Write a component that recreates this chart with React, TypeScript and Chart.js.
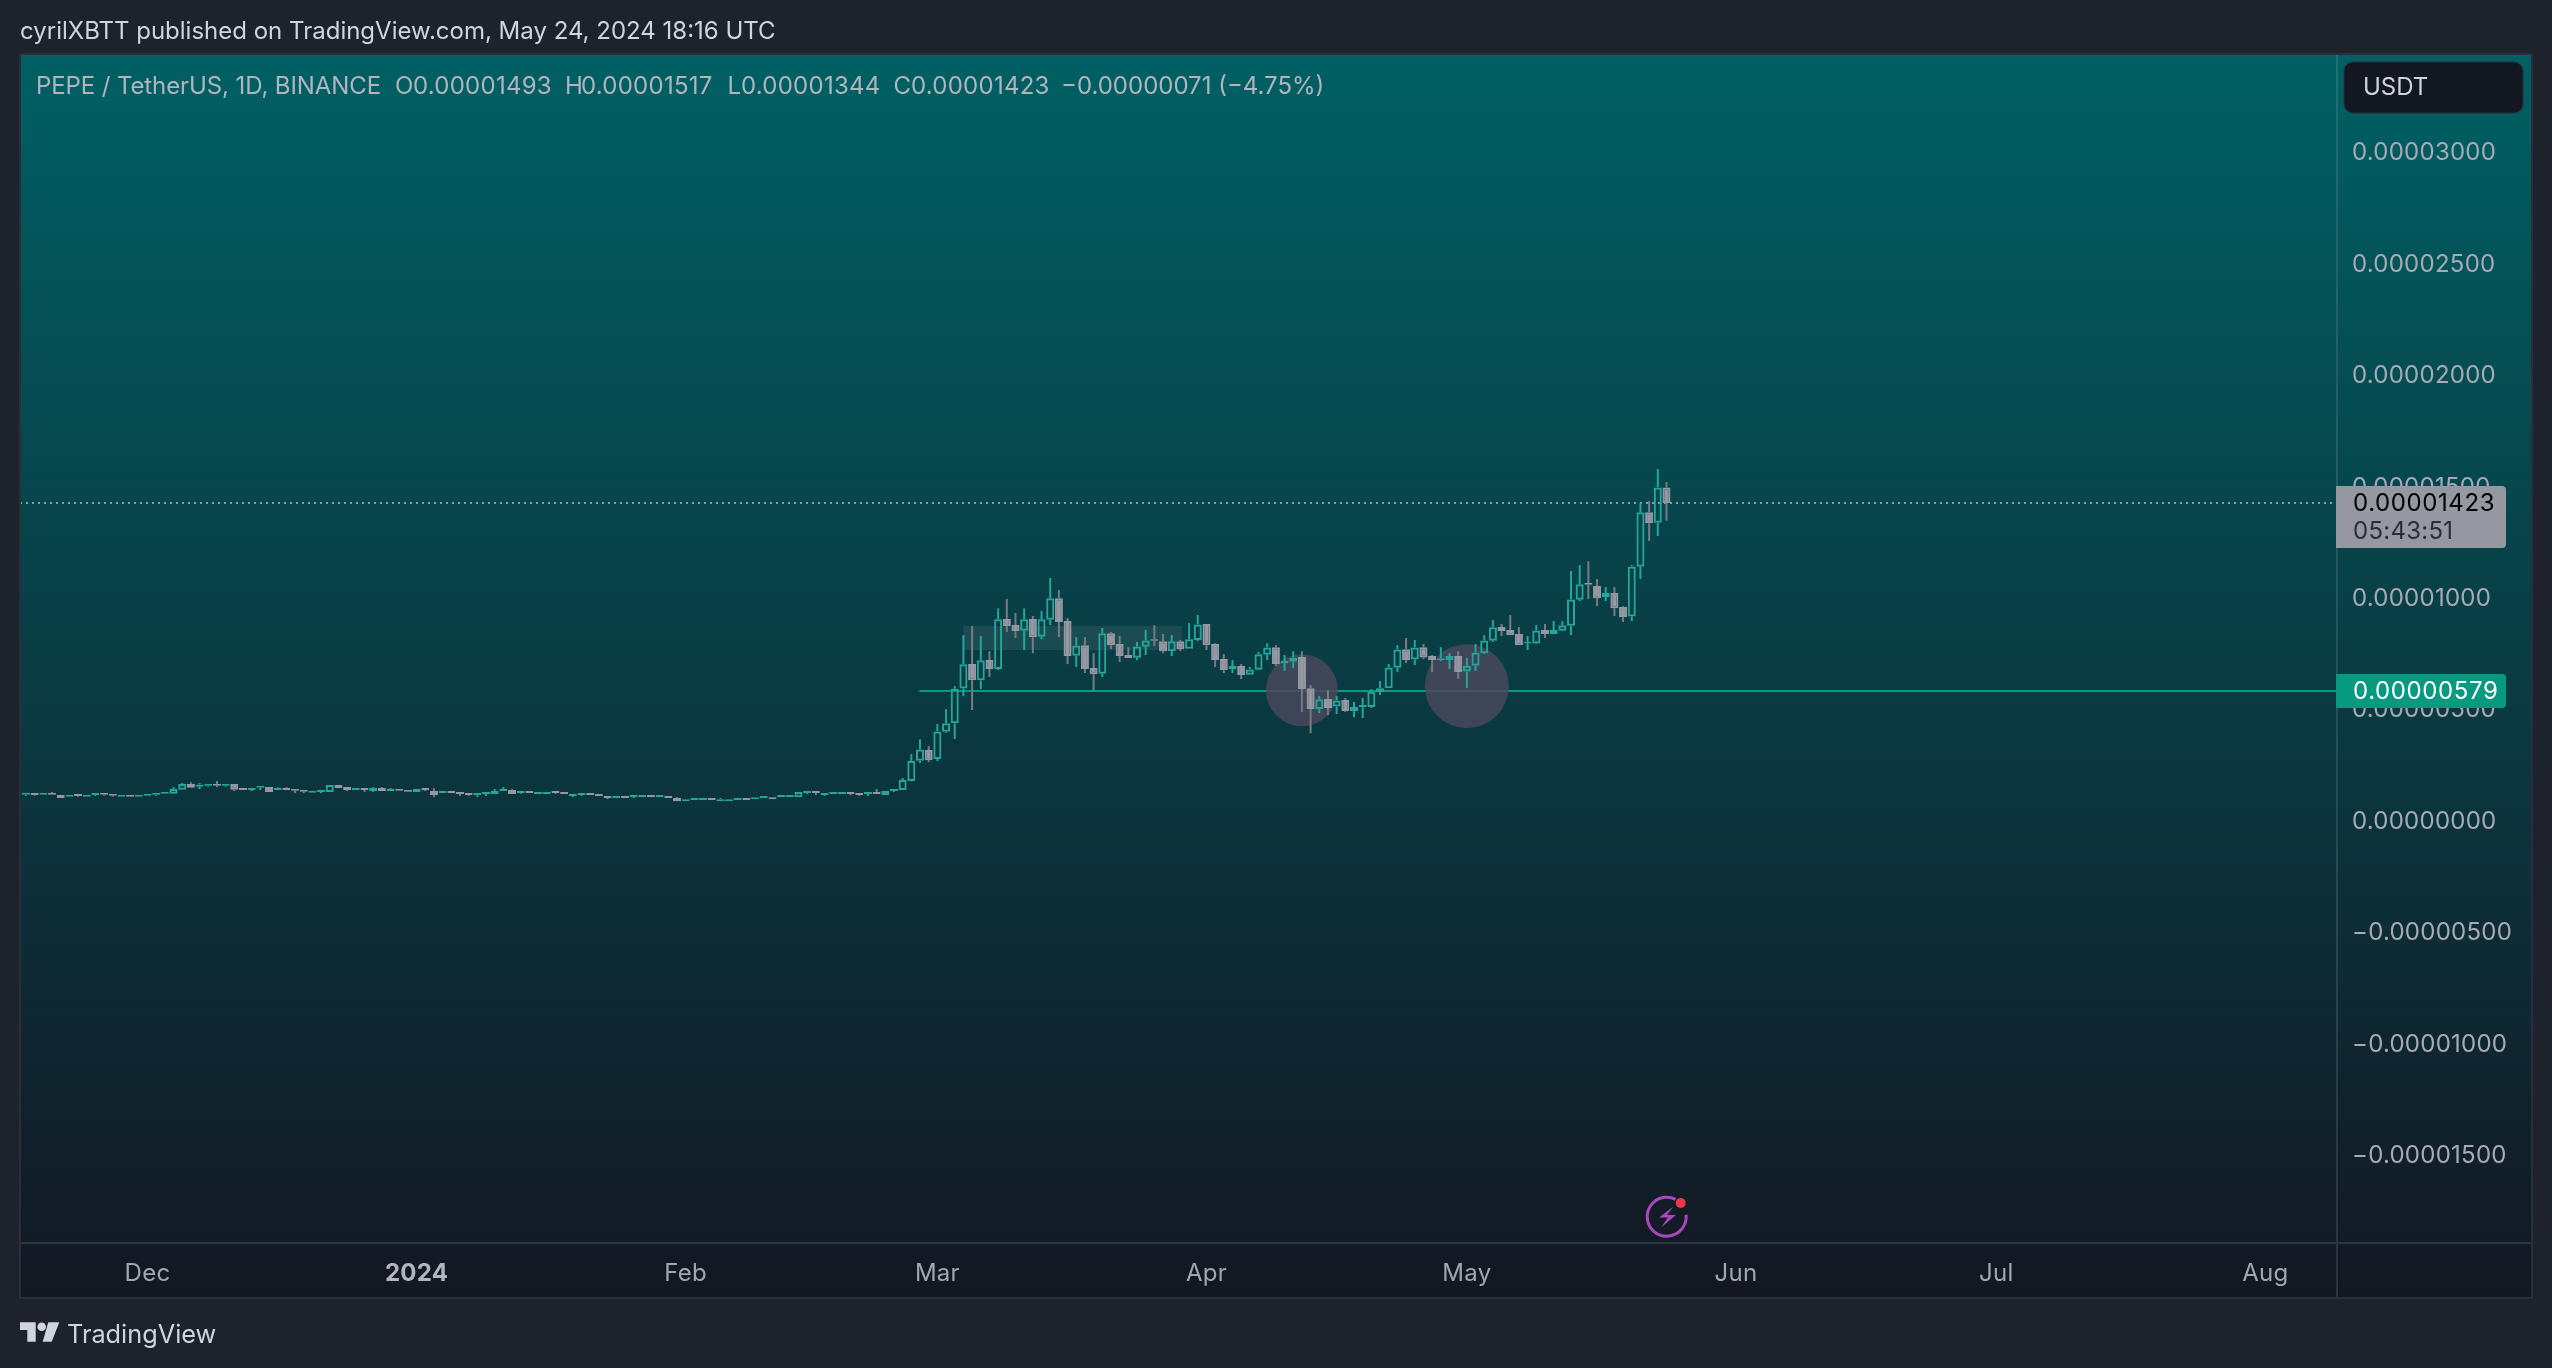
import React, { useEffect, useRef } from "react";
import { Chart, registerables } from "chart.js";

Chart.register(...registerables);

// Prices are in units of 0.00000001 USDT. Days are counted from 1 Dec 2023.
const FIRST_DAY = -15;
const opens = [
  126,114,121,114,121,112,105,117,105,112,
  121,117,105,112,105,109,114,118,118,136,
  162,150,154,162,154,162,144,135,145,148,
  135,144,139,135,123,126,126,157,148,135,
  144,130,144,130,139,135,126,144,130,121,
  130,126,121,112,117,117,130,135,121,130,
  117,117,130,126,108,112,121,117,108,99,
  108,103,103,112,103,108,99,85,90,90,
  99,85,85,90,99,94,99,103,103,103,
  103,121,130,112,117,117,126,121,117,126,
  112,130,135,175,266,314,274,396,434,591,
  700,627,718,678,902,875,850,902,823,899,
  996,893,738,785,682,657,839,790,741,729,
  778,812,803,758,803,769,808,880,790,723,
  678,691,652,675,742,776,703,711,732,592,
  498,543,510,539,489,507,507,574,592,684,
  767,721,776,736,718,718,736,667,693,749,
  805,866,853,835,793,793,853,835,850,872,
  989,1064,1050,1001,1019,956,914,1137,1382,1334,
  1493,
];
const highs = [
  126,123,121,121,126,112,112,117,112,121,
  121,117,112,112,112,117,121,126,148,166,
  170,166,162,175,162,162,144,144,153,148,
  147,148,139,135,130,135,157,157,148,144,
  144,148,148,144,139,135,139,144,144,130,
  130,126,121,121,126,139,148,139,130,130,
  126,126,130,126,117,121,121,117,108,108,
  108,112,112,112,112,108,103,94,99,99,
  99,99,94,99,99,103,108,103,112,112,
  126,130,130,121,126,126,126,121,126,139,
  130,139,189,296,362,332,431,498,601,830,
  871,826,758,950,992,929,950,916,938,1086,
  1032,907,821,821,749,862,844,826,776,799,
  853,875,835,830,808,884,920,880,794,745,
  718,700,687,754,794,785,741,758,758,606,
  557,583,557,548,530,548,588,624,700,785,
  817,808,790,741,776,749,758,727,790,830,
  898,880,920,866,826,875,880,893,893,1118,
  1144,1162,1082,1046,1046,960,1144,1423,1432,1575,
  1517,
];
const lows = [
  109,109,109,114,114,99,105,105,105,108,
  109,105,105,105,105,109,109,118,118,136,
  145,139,150,148,150,130,135,130,135,126,
  135,135,121,121,123,121,126,144,130,135,
  126,126,130,130,132,127,126,130,103,121,
  121,108,108,103,108,117,130,117,117,121,
  117,117,117,117,103,108,112,108,94,99,
  99,99,103,103,103,99,85,85,90,90,
  90,85,85,90,90,94,99,94,103,103,
  103,117,112,108,117,117,112,108,108,117,
  112,126,135,175,256,260,265,392,364,557,
  494,588,642,673,844,817,763,749,812,875,
  821,700,687,660,579,642,767,709,727,718,
  741,781,749,736,758,769,803,763,687,660,
  660,633,652,673,718,691,669,682,485,390,
  480,471,476,485,462,458,503,561,592,664,
  705,696,723,664,714,678,633,592,669,745,
  799,826,830,785,763,790,817,835,848,830,
  983,992,960,983,916,889,893,1082,1252,1275,
  1344,
];
const closes = [
  109,123,112,121,114,99,112,108,112,121,
  114,109,112,105,112,117,121,126,139,162,
  145,159,162,154,162,136,135,144,153,126,
  144,135,132,127,130,135,157,144,135,144,
  135,144,130,139,132,127,139,135,112,130,
  121,117,112,121,126,130,139,117,130,121,
  126,126,121,117,117,121,112,108,99,108,
  99,112,112,103,112,99,85,94,99,99,
  90,94,94,99,90,103,108,94,112,112,
  126,130,121,121,126,126,117,112,126,117,
  130,139,180,265,317,269,398,434,589,699,
  628,717,678,901,871,848,901,821,901,995,
  889,736,784,678,655,838,785,736,727,779,
  806,805,758,802,767,811,878,785,718,673,
  691,651,676,744,775,700,714,729,588,498,
  542,503,537,489,507,516,576,592,685,766,
  718,775,730,718,726,736,664,693,752,806,
  865,848,830,785,799,851,835,853,874,990,
  1058,1056,996,1019,951,911,1138,1381,1333,1493,
  1423,
];

const monthDays = [0, 31, 62, 91, 122, 152, 183, 213, 244];
const monthLabels = ["Dec", "2024", "Feb", "Mar", "Apr", "May", "Jun", "Jul", "Aug"];
const priceTicks = [3000, 2500, 2000, 1500, 1000, 500, 0, -500, -1000, -1500];

const lastPrice = 1423;
const supportPrice = 579;
const supportStartDay = 88.9;
const circleDays = [133, 152];
const circlePrices = [583, 601];
const rangeBoxDays = [94, 119.15];
const rangeBoxPrices = [763, 871];

const titleText = "cyrilXBTT published on TradingView.com, May 24, 2024 18:16 UTC";
const legendParts: [string, number][] = [
  ["PEPE / TetherUS, 1D, BINANCE", 36],
  ["O", 395],
  ["0.00001493", 413],
  ["H", 565],
  ["0.00001517", 581],
  ["L", 727.5],
  ["0.00001344", 741],
  ["C", 893.5],
  ["0.00001423", 911],
  ["\u22120.00000071 (\u22124.75%)", 1061],
];

const W = 2552;
const H = 1368;
const FRAME = { l: 20, t: 54, r: 2532, b: 1298 };
const AXIS_X = 2337;
const AXIS_Y = 1243;
const X_MIN = -14.69;
const X_MAX = 252.25;
const Y_MIN = -1898;
const Y_MAX = 3438;
const FONT = "Inter, 'Noto Sans', sans-serif";
const UP = "#26a69a";
const DOWN = "#9598a1";
const DOWN_WICK = "#787b86";
const SPACING = "0.25px";
const TAG_SPACING = "0.6px";

const days = opens.map((_, i) => FIRST_DAY + i);
const isUp = (i: number) => closes[i] >= opens[i];
const fmtPrice = (v: number) => (v < 0 ? "\u2212" : "") + (Math.abs(v) / 1e8).toFixed(8);

const chrome = {
  id: "chrome",
  beforeDraw(chart: any) {
    const c = chart.ctx as any;
    c.save();
    c.fillStyle = "#1e222d";
    c.fillRect(0, 0, W, H);
    const g = c.createLinearGradient(0, FRAME.t, 0, FRAME.b);
    g.addColorStop(0, "#006064");
    g.addColorStop(1, "#131722");
    c.fillStyle = g;
    c.fillRect(FRAME.l, FRAME.t, FRAME.r - FRAME.l, FRAME.b - FRAME.t);
    c.restore();
    c.letterSpacing = SPACING;
  },
  beforeDatasetsDraw(chart: any) {
    const c = chart.ctx as CanvasRenderingContext2D;
    const { x, y } = chart.scales;
    const x0 = x.getPixelForValue(rangeBoxDays[0]);
    const x1 = x.getPixelForValue(rangeBoxDays[1]);
    const y0 = y.getPixelForValue(rangeBoxPrices[1]);
    const y1 = y.getPixelForValue(rangeBoxPrices[0]);
    c.save();
    c.fillStyle = "rgba(255,255,255,0.075)";
    c.fillRect(x0, y0, x1 - x0, y1 - y0);
    c.restore();
  },
  afterDraw(chart: any) {
    const c = chart.ctx as any;
    c.save();
    // frame and separators
    c.strokeStyle = "rgba(240,243,250,0.12)";
    c.lineWidth = 2;
    c.beginPath();
    c.moveTo(AXIS_X, FRAME.t);
    c.lineTo(AXIS_X, FRAME.b);
    c.moveTo(FRAME.l, AXIS_Y);
    c.lineTo(FRAME.r, AXIS_Y);
    c.stroke();
    c.strokeStyle = "#2a2e39";
    c.strokeRect(FRAME.l, FRAME.t, FRAME.r - FRAME.l, FRAME.b - FRAME.t);

    c.textBaseline = "middle";
    c.textAlign = "left";
    // title
    c.letterSpacing = "0px";
    c.font = `400 24px ${FONT}`;
    c.fillStyle = "#d1d4dc";
    c.fillText(titleText, 20, 32);
    // legend
    c.fillStyle = "#b2b5be";
    legendParts.forEach(([t, px]) => {
      c.letterSpacing = px === 36 ? "-0.1px" : px === 1061 ? "0px" : SPACING;
      c.fillText(t, px, 87);
    });

    // USDT button
    c.letterSpacing = "0px";
    c.beginPath();
    c.roundRect(2344, 62, 179, 51, 9);
    c.fillStyle = "#131722";
    c.fill();
    c.strokeStyle = "#2a2e39";
    c.lineWidth = 1;
    c.stroke();
    c.fillStyle = "#d1d4dc";
    c.fillText("USDT", 2363, 88);

    // last price tag
    c.letterSpacing = TAG_SPACING;
    c.beginPath();
    c.roundRect(2336, 486, 170, 62, [0, 4, 4, 0]);
    c.fillStyle = DOWN;
    c.fill();
    c.fillStyle = "#000000";
    c.fillText(fmtPrice(lastPrice), 2353, 504);
    c.letterSpacing = SPACING;
    c.fillStyle = "#2a2e39";
    c.fillText("05:43:51", 2353, 531.5);

    // support tag
    c.letterSpacing = TAG_SPACING;
    c.beginPath();
    c.roundRect(2336, 674, 170, 34, [0, 4, 4, 0]);
    c.fillStyle = "#089981";
    c.fill();
    c.fillStyle = "#ffffff";
    c.fillText(fmtPrice(supportPrice), 2353, 692);
    c.letterSpacing = "0px";

    // bolt icon
    const cx = 1666.7;
    const cy = 1216.7;
    c.strokeStyle = "#ab47bc";
    c.lineWidth = 3;
    c.beginPath();
    c.arc(cx, cy, 19.5, -0.1, -0.95 + Math.PI * 2 - 0.15);
    c.stroke();
    c.fillStyle = "#ab47bc";
    c.beginPath();
    [[1673.5, 1206.5], [1659, 1217.5], [1668, 1217.5], [1661, 1227.5], [1676, 1215], [1667, 1215]].forEach(
      ([a, b], i) => (i ? c.lineTo(a, b) : c.moveTo(a, b))
    );
    c.closePath();
    c.fill();
    c.fillStyle = "#f23645";
    c.beginPath();
    c.arc(1680.7, 1203, 5, 0, Math.PI * 2);
    c.fill();

    // logo
    c.fillStyle = "#d1d4dc";
    c.beginPath();
    c.moveTo(20, 1322.3);
    c.lineTo(35.7, 1322.3);
    c.lineTo(35.7, 1341.7);
    c.lineTo(27.3, 1341.7);
    c.lineTo(27.3, 1330);
    c.lineTo(20, 1330);
    c.closePath();
    c.moveTo(48.3, 1322.3);
    c.lineTo(59.3, 1322.3);
    c.lineTo(51.7, 1341.7);
    c.lineTo(42.7, 1341.7);
    c.closePath();
    c.fill();
    c.beginPath();
    c.arc(41.7, 1326.7, 4.3, 0, Math.PI * 2);
    c.fill();
    c.font = `400 25.3px ${FONT}`;
    c.fillText("TradingView", 67, 1335);
    c.restore();
  },
};

export default function App() {
  const ref = useRef<HTMLCanvasElement>(null);
  useEffect(() => {
    if (!ref.current) return;
    const chart = new Chart(ref.current, {
      type: "bar",
      data: {
        datasets: [
          {
            type: "line",
            order: 10,
            data: [{ x: X_MIN, y: lastPrice }, { x: X_MAX, y: lastPrice }],
            borderColor: DOWN,
            borderWidth: 2,
            borderDash: [2, 4],
            pointRadius: 0,
          },
          {
            type: "line",
            order: 9,
            data: [{ x: supportStartDay, y: supportPrice }, { x: X_MAX, y: supportPrice }],
            borderColor: "#089981",
            borderWidth: 2,
            pointRadius: 0,
          },
          {
            type: "bubble",
            order: 8,
            data: circleDays.map((d, i) => ({ x: d, y: circlePrices[i], r: i === 0 ? 36 : 42 })),
            backgroundColor: "rgba(74,72,91,0.82)",
            borderWidth: 0,
          },
          {
            type: "bar",
            order: 3,
            grouped: false,
            barThickness: 2,
            inflateAmount: 0,
            data: days.map((d, i) => ({ x: d, y: [Math.max(opens[i], closes[i]), highs[i]] })),
            backgroundColor: days.map((_, i) => (isUp(i) ? UP : DOWN_WICK)),
          },
          {
            type: "bar",
            order: 3,
            grouped: false,
            barThickness: 2,
            inflateAmount: 0,
            data: days.map((d, i) => ({ x: d, y: [lows[i], Math.min(opens[i], closes[i])] })),
            backgroundColor: days.map((_, i) => (isUp(i) ? UP : DOWN_WICK)),
          },
          {
            type: "bar",
            order: 1,
            grouped: false,
            barThickness: 8,
            inflateAmount: 0,
            borderSkipped: false,
            borderWidth: 2,
            data: days.map((d, i) => ({ x: d, y: [opens[i], closes[i]] })),
            backgroundColor: days.map((_, i) => (isUp(i) ? "rgba(0,0,0,0)" : DOWN)),
            borderColor: days.map((_, i) => (isUp(i) ? UP : DOWN)),
          },
        ] as any,
      },
      options: {
        animation: false,
        responsive: false,
        devicePixelRatio: 1,
        events: [],
        layout: {
          autoPadding: false,
          padding: { left: FRAME.l, top: FRAME.t, right: W - FRAME.r, bottom: H - FRAME.b },
        },
        plugins: { legend: { display: false }, tooltip: { enabled: false }, title: { display: false } },
        scales: {
          x: {
            type: "linear",
            min: X_MIN,
            max: X_MAX,
            offset: false,
            grid: { display: false, drawTicks: false },
            border: { display: false },
            afterBuildTicks: (a: any) => {
              a.ticks = monthDays.map((value) => ({ value }));
            },
            afterFit: (a: any) => {
              a.height = FRAME.b - AXIS_Y;
              a.paddingLeft = 0;
              a.paddingRight = 0;
            },
            ticks: {
              autoSkip: false,
              maxRotation: 0,
              padding: 16,
              color: (ctx: any) => (ctx.tick?.value === 31 ? "#b2b5be" : "#a3a6af"),
              font: (ctx: any) => ({
                family: FONT,
                size: 24,
                weight: ctx.tick?.value === 31 ? "700" : "400",
              }),
              callback: (v: any) => monthLabels[monthDays.indexOf(Number(v))] ?? "",
            },
          },
          y: {
            type: "linear",
            position: "right",
            min: Y_MIN,
            max: Y_MAX,
            grid: { display: false, drawTicks: false },
            border: { display: false },
            afterBuildTicks: (a: any) => {
              a.ticks = priceTicks.map((value) => ({ value }));
            },
            afterFit: (a: any) => {
              a.width = FRAME.r - AXIS_X;
              a.paddingTop = 0;
              a.paddingBottom = 0;
            },
            ticks: {
              autoSkip: false,
              crossAlign: "near",
              padding: 15,
              labelOffset: 1.5,
              color: "#a8abb4",
              font: { family: FONT, size: 24 },
              callback: (v: any) => fmtPrice(Number(v)),
            },
          },
        },
      } as any,
      plugins: [chrome],
    });
    return () => chart.destroy();
  }, []);
  return (
    <div style={{ position: "fixed", left: 0, top: 0, width: W, height: H }}>
      <canvas ref={ref} width={W} height={H} style={{ display: "block", width: W, height: H }} />
    </div>
  );
}
